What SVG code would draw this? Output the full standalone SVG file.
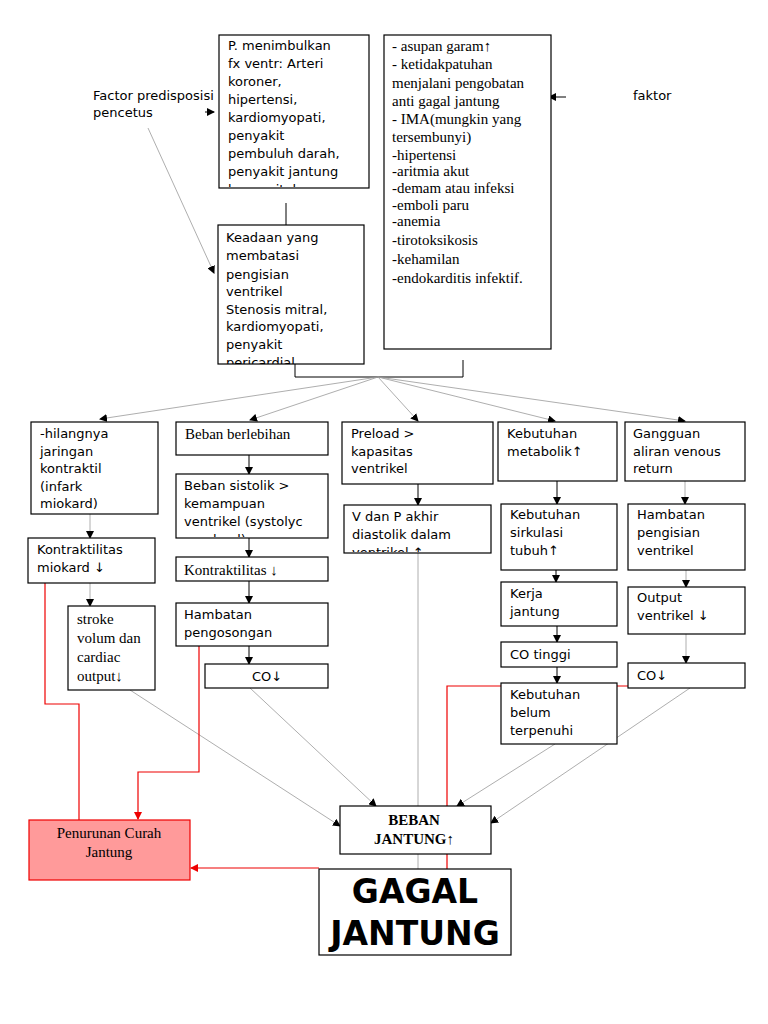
<svg xmlns="http://www.w3.org/2000/svg" width="768" height="1024" viewBox="0 0 768 1024">
<style>
.b{fill:#fff;stroke:#000;stroke-width:1.2}
.s{font-family:"DejaVu Sans",sans-serif;font-size:13px;fill:#000}
.r{font-family:"Liberation Serif",serif;font-size:15px;fill:#000}
.k{stroke:#000;stroke-width:1;fill:none}
.g{stroke:#999;stroke-width:0.8;fill:none}
.red{stroke:#e00;stroke-width:1.2;fill:none}
</style>
<defs>
<marker id="ak" markerWidth="8" markerHeight="8" refX="7" refY="4" orient="auto" markerUnits="userSpaceOnUse"><path d="M0,0L8,4L0,8z" fill="#000"/></marker>
<marker id="ar" markerWidth="8" markerHeight="8" refX="7" refY="4" orient="auto" markerUnits="userSpaceOnUse"><path d="M0,0L8,4L0,8z" fill="#e00"/></marker>
<clipPath id="cP"><rect x="219" y="35" width="150" height="152"/></clipPath>
<clipPath id="cK"><rect x="218" y="225" width="146" height="139"/></clipPath>
<clipPath id="cB2"><rect x="176" y="474" width="152" height="63"/></clipPath>
<clipPath id="cC2"><rect x="344" y="505" width="147" height="47"/></clipPath>
<clipPath id="cF"><rect x="80" y="80" width="139" height="50"/></clipPath>
</defs>
<rect width="768" height="1024" fill="#fff"/>
<g id="connectors">
<line class="k" x1="286" y1="203" x2="286" y2="225"/>
<path class="k" d="M295,363V377H463V360"/>
<line class="k" x1="205" y1="112" x2="214" y2="112" marker-end="url(#ak)"/>
<line class="k" x1="566" y1="97" x2="549" y2="97" marker-end="url(#ak)"/>
<line class="g" x1="148" y1="128" x2="214" y2="273" marker-end="url(#ak)"/>
<g class="g">
<line x1="378" y1="377" x2="100" y2="419" marker-end="url(#ak)"/>
<line x1="378" y1="377" x2="250" y2="420" marker-end="url(#ak)"/>
<line x1="378" y1="377" x2="418" y2="421" marker-end="url(#ak)"/>
<line x1="378" y1="377" x2="555" y2="421" marker-end="url(#ak)"/>
<line x1="378" y1="377" x2="685" y2="421" marker-end="url(#ak)"/>
</g>
<g class="k">
<line x1="249" y1="455" x2="249" y2="474" marker-end="url(#ak)"/>
<line x1="249" y1="538" x2="249" y2="557" marker-end="url(#ak)"/>
<line x1="249" y1="581" x2="249" y2="603" marker-end="url(#ak)"/>
<line x1="249" y1="646" x2="249" y2="664" marker-end="url(#ak)"/>
<line x1="418" y1="484" x2="418" y2="505" marker-end="url(#ak)"/>
<line x1="557" y1="481" x2="557" y2="504" marker-end="url(#ak)"/>
<line x1="556" y1="570" x2="556" y2="582" marker-end="url(#ak)"/>
<line x1="557" y1="626" x2="557" y2="642" marker-end="url(#ak)"/>
<line x1="557" y1="667" x2="557" y2="683" marker-end="url(#ak)"/>
</g>
<g class="g">
<line x1="90" y1="514" x2="90" y2="538" marker-end="url(#ak)"/>
<line x1="90" y1="583" x2="90" y2="606" marker-end="url(#ak)"/>
<line x1="685" y1="481" x2="685" y2="504" marker-end="url(#ak)"/>
<line x1="686" y1="570" x2="686" y2="587" marker-end="url(#ak)"/>
<line x1="686" y1="634" x2="686" y2="663" marker-end="url(#ak)"/>
<line x1="418" y1="553" x2="418" y2="869"/>
<line x1="130" y1="690" x2="340" y2="826" marker-end="url(#ak)"/>
<line x1="250" y1="688" x2="376" y2="806" marker-end="url(#ak)"/>
<line x1="555" y1="744" x2="457" y2="806" marker-end="url(#ak)"/>
<line x1="690" y1="688" x2="491" y2="823" marker-end="url(#ak)"/>
</g>
<path class="red" d="M45,583V704H79V820"/>
<path class="red" d="M199,646V772H138V819" marker-end="url(#ar)"/>
<path class="red" d="M501,686H447V869"/>
<path class="red" d="M617,686H700"/>
<line class="red" x1="319" y1="868" x2="191" y2="868" marker-end="url(#ar)"/>
</g>
<g id="factor"><text class="s" clip-path="url(#cF)"><tspan x="93" y="100">Factor predisposisi</tspan><tspan x="93" y="117">pencetus</tspan></text></g>
<g id="faktor"><text class="s" x="633" y="100">faktor</text></g>
<g id="p"><rect class="b" x="219" y="35" width="150" height="153"/>
<text class="s" clip-path="url(#cP)"><tspan x="228" y="50">P. menimbulkan</tspan><tspan x="228" y="68">fx ventr: Arteri</tspan><tspan x="228" y="86">koroner,</tspan><tspan x="228" y="104">hipertensi,</tspan><tspan x="228" y="122">kardiomyopati,</tspan><tspan x="228" y="140">penyakit</tspan><tspan x="228" y="158">pembuluh darah,</tspan><tspan x="228" y="176">penyakit jantung</tspan><tspan x="228" y="194">kongenital</tspan></text></g>
<g id="list"><rect class="b" x="384" y="35" width="167" height="314"/>
<text class="r"><tspan x="392" y="51">- asupan garam↑</tspan><tspan x="392" y="69">- ketidakpatuhan</tspan><tspan x="392" y="88">menjalani pengobatan</tspan><tspan x="392" y="106">anti gagal jantung</tspan><tspan x="392" y="124">- IMA(mungkin yang</tspan><tspan x="392" y="142">tersembunyi)</tspan><tspan x="392" y="160">-hipertensi</tspan><tspan x="392" y="176">-aritmia akut</tspan><tspan x="392" y="193">-demam atau infeksi</tspan><tspan x="392" y="210">-emboli paru</tspan><tspan x="392" y="226">-anemia</tspan><tspan x="392" y="245">-tirotoksikosis</tspan><tspan x="392" y="264">-kehamilan</tspan><tspan x="392" y="283">-endokarditis infektif.</tspan></text></g>
<g id="keadaan"><rect class="b" x="218" y="225" width="146" height="139"/>
<text class="s" clip-path="url(#cK)"><tspan x="226" y="242">Keadaan yang</tspan><tspan x="226" y="260">membatasi</tspan><tspan x="226" y="279">pengisian</tspan><tspan x="226" y="296">ventrikel</tspan><tspan x="226" y="314">Stenosis mitral,</tspan><tspan x="226" y="331">kardiomyopati,</tspan><tspan x="226" y="349">penyakit</tspan><tspan x="226" y="367">pericardial</tspan></text></g>
<g id="a"><rect class="b" x="31" y="422" width="127" height="92"/><text class="s"><tspan x="40" y="438">-hilangnya</tspan><tspan x="40" y="456">jaringan</tspan><tspan x="40" y="473">kontraktil</tspan><tspan x="40" y="491">(infark</tspan><tspan x="40" y="508">miokard)</tspan></text></g>
<g id="b"><rect class="b" x="176" y="422" width="152" height="33"/><text class="r" x="185" y="439">Beban berlebihan</text></g>
<g id="c"><rect class="b" x="342" y="422" width="151" height="62"/><text class="s"><tspan x="351" y="438">Preload &gt;</tspan><tspan x="351" y="456">kapasitas</tspan><tspan x="351" y="473">ventrikel</tspan></text></g>
<g id="d"><rect class="b" x="498" y="422" width="119" height="59"/><text class="s"><tspan x="507" y="438">Kebutuhan</tspan><tspan x="507" y="456">metabolik↑</tspan></text></g>
<g id="e"><rect class="b" x="625" y="422" width="120" height="59"/><text class="s"><tspan x="633" y="438">Gangguan</tspan><tspan x="633" y="456">aliran venous</tspan><tspan x="633" y="473">return</tspan></text></g>
<g id="a2"><rect class="b" x="28" y="538" width="127" height="45"/><text class="s"><tspan x="37" y="554">Kontraktilitas</tspan><tspan x="37" y="572">miokard ↓</tspan></text></g>
<g id="a3"><rect class="b" x="68" y="606" width="87" height="84"/><text class="r" font-size="14"><tspan x="77" y="624">stroke</tspan><tspan x="77" y="643">volum dan</tspan><tspan x="77" y="662">cardiac</tspan><tspan x="77" y="681">output↓</tspan></text></g>
<g id="b2"><rect class="b" x="176" y="474" width="152" height="64"/><text class="s" clip-path="url(#cB2)"><tspan x="184" y="490">Beban sistolik &gt;</tspan><tspan x="184" y="508">kemampuan</tspan><tspan x="184" y="526">ventrikel (systolyc</tspan><tspan x="184" y="544">overload)</tspan></text></g>
<g id="b3"><rect class="b" x="176" y="557" width="152" height="24"/><text class="r" x="184" y="575">Kontraktilitas ↓</text></g>
<g id="b4"><rect class="b" x="176" y="603" width="152" height="43"/><text class="s"><tspan x="184" y="619">Hambatan</tspan><tspan x="184" y="637">pengosongan</tspan></text></g>
<g id="b5"><rect class="b" x="205" y="664" width="123" height="24"/><text class="s" x="267" y="681" text-anchor="middle">CO↓</text></g>
<g id="c2"><rect class="b" x="344" y="505" width="147" height="48"/><text class="s" clip-path="url(#cC2)"><tspan x="352" y="521">V dan P akhir</tspan><tspan x="352" y="539">diastolik dalam</tspan><tspan x="352" y="557">ventrikel ↑</tspan></text></g>
<g id="d2"><rect class="b" x="501" y="504" width="116" height="66"/><text class="s"><tspan x="510" y="519">Kebutuhan</tspan><tspan x="510" y="537">sirkulasi</tspan><tspan x="510" y="555">tubuh↑</tspan></text></g>
<g id="d3"><rect class="b" x="501" y="582" width="116" height="44"/><text class="s"><tspan x="510" y="598">Kerja</tspan><tspan x="510" y="616">jantung</tspan></text></g>
<g id="d4"><rect class="b" x="501" y="642" width="116" height="25"/><text class="s" x="510" y="659">CO tinggi</text></g>
<g id="d5"><rect class="b" x="501" y="683" width="116" height="61"/><text class="s"><tspan x="510" y="699">Kebutuhan</tspan><tspan x="510" y="717">belum</tspan><tspan x="510" y="735">terpenuhi</tspan></text></g>
<g id="e2"><rect class="b" x="628" y="504" width="117" height="66"/><text class="s"><tspan x="637" y="519">Hambatan</tspan><tspan x="637" y="537">pengisian</tspan><tspan x="637" y="555">ventrikel</tspan></text></g>
<g id="e3"><rect class="b" x="628" y="587" width="117" height="47"/><text class="s"><tspan x="637" y="602">Output</tspan><tspan x="637" y="620">ventrikel ↓</tspan></text></g>
<g id="e4"><rect class="b" x="628" y="663" width="117" height="25"/><text class="s" x="637" y="680">CO↓</text></g>
<g id="beban"><rect class="b" x="340" y="806" width="151" height="48"/><text class="r" font-weight="bold" text-anchor="middle"><tspan x="414" y="825">BEBAN</tspan><tspan x="414" y="844">JANTUNG↑</tspan></text></g>
<g id="gagal"><rect class="b" x="319" y="869" width="192" height="86"/><text font-family="DejaVu Sans,sans-serif" font-weight="bold" font-size="33" text-anchor="middle"><tspan x="415" y="903">GAGAL</tspan><tspan x="415" y="945">JANTUNG</tspan></text></g>
<g id="penurunan"><rect x="29" y="820" width="161" height="60" fill="#ff9a9a" stroke="#e00" stroke-width="1.2"/><text class="r" text-anchor="middle"><tspan x="109" y="838">Penurunan Curah</tspan><tspan x="109" y="857">Jantung</tspan></text></g>
</svg>
